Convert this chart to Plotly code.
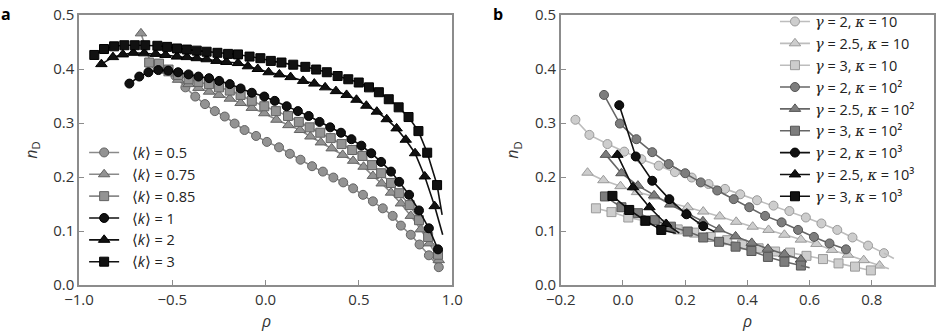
import plotly.graph_objects as go

# ---------------- Panel a data ----------------
k05_x = [-0.59, -0.536, -0.483, -0.430, -0.377, -0.325, -0.272, -0.219, -0.166, -0.113, -0.051, 0.007, 0.072, 0.130, 0.187, 0.249, 0.307, 0.363, 0.416, 0.469, 0.522, 0.575, 0.628, 0.681, 0.725, 0.778, 0.825, 0.875, 0.928]
k05_y = [0.408, 0.398, 0.387, 0.366, 0.349, 0.335, 0.322, 0.312, 0.299, 0.287, 0.276, 0.265, 0.255, 0.243, 0.232, 0.220, 0.210, 0.199, 0.190, 0.179, 0.167, 0.155, 0.142, 0.128, 0.110, 0.093, 0.075, 0.055, 0.033]

k075_x = [-0.668, -0.615, -0.565, -0.515, -0.469, -0.413, -0.360, -0.303, -0.250, -0.192, -0.134, -0.074, -0.007, 0.058, 0.122, 0.184, 0.240, 0.296, 0.354, 0.413, 0.469, 0.525, 0.575, 0.622, 0.672, 0.725, 0.778, 0.831, 0.878, 0.928]
k075_y = [0.466, 0.410, 0.402, 0.392, 0.380, 0.372, 0.365, 0.358, 0.352, 0.345, 0.337, 0.328, 0.318, 0.306, 0.296, 0.287, 0.275, 0.264, 0.253, 0.241, 0.230, 0.219, 0.202, 0.188, 0.171, 0.151, 0.128, 0.103, 0.077, 0.046]

k085_x = [-0.624, -0.571, -0.520, -0.469, -0.413, -0.360, -0.303, -0.250, -0.192, -0.134, -0.074, -0.007, 0.055, 0.120, 0.178, 0.236, 0.293, 0.349, 0.407, 0.464, 0.519, 0.571, 0.619, 0.672, 0.716, 0.772, 0.822, 0.871, 0.924]
k085_y = [0.412, 0.410, 0.399, 0.389, 0.381, 0.376, 0.372, 0.366, 0.360, 0.352, 0.341, 0.331, 0.322, 0.313, 0.302, 0.292, 0.282, 0.272, 0.261, 0.250, 0.239, 0.222, 0.207, 0.189, 0.170, 0.148, 0.120, 0.089, 0.056]

k1_x = [-0.730, -0.677, -0.628, -0.575, -0.522, -0.469, -0.413, -0.360, -0.303, -0.249, -0.192, -0.134, -0.074, -0.007, 0.049, 0.113, 0.173, 0.231, 0.289, 0.346, 0.404, 0.460, 0.513, 0.566, 0.619, 0.672, 0.716, 0.769, 0.822, 0.875, 0.924]
k1_y = [0.373, 0.386, 0.394, 0.398, 0.397, 0.394, 0.390, 0.386, 0.383, 0.378, 0.372, 0.364, 0.356, 0.349, 0.341, 0.331, 0.322, 0.313, 0.302, 0.292, 0.282, 0.270, 0.258, 0.244, 0.228, 0.210, 0.191, 0.167, 0.138, 0.105, 0.066]

k2_x = [-0.880, -0.818, -0.765, -0.709, -0.651, -0.589, -0.536, -0.475, -0.422, -0.369, -0.316, -0.263, -0.210, -0.148, -0.095, -0.042, 0.016, 0.074, 0.134, 0.201, 0.261, 0.319, 0.377, 0.434, 0.487, 0.540, 0.596, 0.649, 0.702, 0.751, 0.801, 0.853, 0.906]
k2_y = [0.409, 0.422, 0.427, 0.430, 0.429, 0.428, 0.426, 0.423, 0.422, 0.420, 0.418, 0.415, 0.413, 0.411, 0.405, 0.400, 0.394, 0.390, 0.385, 0.378, 0.373, 0.366, 0.359, 0.352, 0.343, 0.332, 0.321, 0.307, 0.290, 0.269, 0.244, 0.201, 0.146]
k2_fit_end = (0.949, 0.093)

k3_x = [-0.918, -0.866, -0.812, -0.757, -0.701, -0.645, -0.580, -0.528, -0.475, -0.422, -0.369, -0.316, -0.258, -0.201, -0.148, -0.086, -0.028, 0.028, 0.085, 0.148, 0.213, 0.271, 0.328, 0.386, 0.443, 0.499, 0.554, 0.607, 0.660, 0.713, 0.766, 0.819, 0.866, 0.919]
k3_y = [0.426, 0.437, 0.442, 0.444, 0.444, 0.444, 0.443, 0.441, 0.438, 0.436, 0.434, 0.432, 0.430, 0.428, 0.427, 0.423, 0.420, 0.415, 0.412, 0.408, 0.404, 0.399, 0.394, 0.387, 0.381, 0.375, 0.366, 0.357, 0.344, 0.329, 0.311, 0.285, 0.245, 0.185]
k3_fit_end = (0.946, 0.130)

# ---------------- Panel b data ----------------
g2_k10_x = [-0.153, -0.108, -0.050, 0.004, 0.059, 0.115, 0.167, 0.221, 0.275, 0.328, 0.377, 0.431, 0.484, 0.535, 0.588, 0.638, 0.689, 0.738, 0.788, 0.839]
g2_k10_y = [0.306, 0.278, 0.261, 0.247, 0.233, 0.221, 0.209, 0.199, 0.187, 0.178, 0.168, 0.157, 0.147, 0.137, 0.125, 0.114, 0.102, 0.088, 0.073, 0.059]
g2_k10_end = (0.871, 0.049)

g25_k10_x = [-0.114, -0.063, -0.008, 0.045, 0.102, 0.154, 0.208, 0.258, 0.311, 0.364, 0.417, 0.468, 0.519, 0.572, 0.622, 0.672, 0.723, 0.774, 0.825]
g25_k10_y = [0.208, 0.194, 0.183, 0.172, 0.164, 0.152, 0.144, 0.136, 0.127, 0.117, 0.108, 0.102, 0.093, 0.084, 0.076, 0.065, 0.056, 0.046, 0.036]
g25_k10_end = (0.855, 0.030)

g3_k10_x = [-0.087, -0.037, 0.017, 0.070, 0.123, 0.176, 0.229, 0.282, 0.335, 0.383, 0.436, 0.489, 0.537, 0.590, 0.643, 0.693, 0.746, 0.797]
g3_k10_y = [0.142, 0.135, 0.125, 0.119, 0.112, 0.103, 0.097, 0.089, 0.083, 0.075, 0.068, 0.062, 0.060, 0.054, 0.048, 0.040, 0.034, 0.027]

g2_k100_x = [-0.061, -0.010, 0.043, 0.094, 0.147, 0.200, 0.250, 0.303, 0.356, 0.406, 0.457, 0.510, 0.563, 0.614, 0.664, 0.717]
g2_k100_y = [0.352, 0.299, 0.270, 0.246, 0.224, 0.207, 0.190, 0.175, 0.159, 0.144, 0.128, 0.116, 0.102, 0.089, 0.077, 0.066]

g25_k100_x = [-0.055, -0.005, 0.048, 0.100, 0.152, 0.205, 0.257, 0.309, 0.362, 0.414, 0.466, 0.519, 0.572]
g25_k100_y = [0.241, 0.207, 0.184, 0.166, 0.149, 0.133, 0.118, 0.103, 0.090, 0.078, 0.067, 0.057, 0.047]

g3_k100_x = [-0.058, -0.005, 0.048, 0.102, 0.154, 0.208, 0.258, 0.309, 0.362, 0.413, 0.466, 0.519, 0.572]
g3_k100_y = [0.164, 0.144, 0.133, 0.120, 0.108, 0.099, 0.088, 0.080, 0.071, 0.063, 0.052, 0.043, 0.036]
g3_k100_end = (0.600, 0.032)

g2_k1000_x = [-0.012, 0.041, 0.094, 0.149, 0.204, 0.258]
g2_k1000_y = [0.333, 0.238, 0.193, 0.159, 0.131, 0.109]
g2_k1000_end = (0.293, 0.099)

g25_k1000_x = [-0.018, 0.032, 0.085, 0.139]
g25_k1000_y = [0.241, 0.181, 0.144, 0.113]
g25_k1000_end = (0.181, 0.096)

g3_k1000_x = [-0.034, 0.020, 0.072, 0.123]
g3_k1000_y = [0.165, 0.139, 0.119, 0.102]
g3_k1000_end = (0.170, 0.096)

G = "<span style=\"font-family:'DejaVu Serif'\"><i>γ</i></span>"
K = "<span style=\"font-family:'DejaVu Serif'\"><i>κ</i></span>"
labels_a = ["\u00a0\u00a0⟨<i>k</i>⟩ = 0.5", "\u00a0\u00a0⟨<i>k</i>⟩ = 0.75", "\u00a0\u00a0⟨<i>k</i>⟩ = 0.85",
            "\u00a0\u00a0⟨<i>k</i>⟩ = 1", "\u00a0\u00a0⟨<i>k</i>⟩ = 2", "\u00a0\u00a0⟨<i>k</i>⟩ = 3"]
labels_b = [f"{G} = 2, {K} = 10", f"{G} = 2.5, {K} = 10", f"{G} = 3, {K} = 10",
            f"{G} = 2, {K} = 10²", f"{G} = 2.5, {K} = 10²", f"{G} = 3, {K} = 10²",
            f"{G} = 2, {K} = 10³", f"{G} = 2.5, {K} = 10³", f"{G} = 3, {K} = 10³"]

FONT = "Open Sans"
GRAY_FILL, GRAY_EDGE, GRAY_LINE = "#939393", "#636363", "#8a8a8a"
BLK_FILL, BLK_EDGE, BLK_LINE = "#111111", "#000000", "#111111"
LIGHT_FILL, LIGHT_EDGE, LIGHT_LINE = "#cdcdcd", "#9a9a9a", "#bdbdbd"
MED_FILL, MED_EDGE, MED_LINE = "#7d7d7d", "#555555", "#666666"

fig = go.Figure()


def add_series(x, y, name, symbol, fill, edge, line, xa, ya, legend, size=9, end=None, lw=1.6):
    fig.add_trace(go.Scatter(
        x=x, y=y, name=name, mode="lines+markers", xaxis=xa, yaxis=ya, legend=legend,
        line=dict(color=line, width=lw),
        marker=dict(symbol=symbol, size=size, color=fill, line=dict(color=edge, width=1)),
    ))
    if end is not None:
        fig.add_trace(go.Scatter(
            x=[x[-1], end[0]], y=[y[-1], end[1]], mode="lines", xaxis=xa, yaxis=ya,
            showlegend=False, line=dict(color=line, width=lw), hoverinfo="skip",
        ))


# panel a
add_series(k05_x, k05_y, labels_a[0], "circle", GRAY_FILL, GRAY_EDGE, GRAY_LINE, "x", "y", "legend")
add_series(k075_x, k075_y, labels_a[1], "triangle-up", GRAY_FILL, GRAY_EDGE, GRAY_LINE, "x", "y", "legend", size=10)
add_series(k085_x, k085_y, labels_a[2], "square", GRAY_FILL, GRAY_EDGE, GRAY_LINE, "x", "y", "legend")
add_series(k1_x, k1_y, labels_a[3], "circle", BLK_FILL, BLK_EDGE, BLK_LINE, "x", "y", "legend")
add_series(k2_x, k2_y, labels_a[4], "triangle-up", BLK_FILL, BLK_EDGE, BLK_LINE, "x", "y", "legend", size=10, end=k2_fit_end)
add_series(k3_x, k3_y, labels_a[5], "square", BLK_FILL, BLK_EDGE, BLK_LINE, "x", "y", "legend", end=k3_fit_end)

# panel b
add_series(g2_k10_x, g2_k10_y, labels_b[0], "circle", LIGHT_FILL, LIGHT_EDGE, LIGHT_LINE, "x2", "y2", "legend2", end=g2_k10_end)
add_series(g25_k10_x, g25_k10_y, labels_b[1], "triangle-up", LIGHT_FILL, LIGHT_EDGE, LIGHT_LINE, "x2", "y2", "legend2", size=10, end=g25_k10_end)
add_series(g3_k10_x, g3_k10_y, labels_b[2], "square", LIGHT_FILL, LIGHT_EDGE, LIGHT_LINE, "x2", "y2", "legend2")
add_series(g2_k100_x, g2_k100_y, labels_b[3], "circle", MED_FILL, MED_EDGE, MED_LINE, "x2", "y2", "legend2")
add_series(g25_k100_x, g25_k100_y, labels_b[4], "triangle-up", MED_FILL, MED_EDGE, MED_LINE, "x2", "y2", "legend2", size=10)
add_series(g3_k100_x, g3_k100_y, labels_b[5], "square", MED_FILL, MED_EDGE, MED_LINE, "x2", "y2", "legend2", end=g3_k100_end)
add_series(g2_k1000_x, g2_k1000_y, labels_b[6], "circle", BLK_FILL, BLK_EDGE, BLK_LINE, "x2", "y2", "legend2", end=g2_k1000_end)
add_series(g25_k1000_x, g25_k1000_y, labels_b[7], "triangle-up", BLK_FILL, BLK_EDGE, BLK_LINE, "x2", "y2", "legend2", size=10, end=g25_k1000_end)
add_series(g3_k1000_x, g3_k1000_y, labels_b[8], "square", BLK_FILL, BLK_EDGE, BLK_LINE, "x2", "y2", "legend2", end=g3_k1000_end)

axis_common = dict(showline=True, linecolor="#8c8c8c", linewidth=1.5, mirror=True,
                   ticks="inside", ticklen=5, tickcolor="#8c8c8c", tickwidth=1.2,
                   showgrid=False, zeroline=False, tickfont=dict(family=FONT, size=15, color="#333333"))

ytitle = dict(text="<i>n</i><sub>D</sub>", standoff=12, font=dict(family=FONT, size=16, color="#333333"))

fig.update_layout(
    width=946, height=332,
    margin=dict(l=79, r=1, t=15, b=47),
    paper_bgcolor="white", plot_bgcolor="white",
    font=dict(family=FONT, size=15, color="#333333"),
    xaxis=dict(domain=[0, 0.4365], range=[-1.0, 1.0], tickvals=[-1.0, -0.5, 0.0, 0.5, 1.0], tickformat=".1f",
               **axis_common),
    yaxis=dict(domain=[0, 1], range=[0, 0.5], tickvals=[0, 0.1, 0.2, 0.3, 0.4, 0.5], tickformat=".1f",
               title=ytitle, **axis_common),
    xaxis2=dict(domain=[0.5635, 1.0], range=[-0.2, 1.0], tickvals=[-0.2, 0.0, 0.2, 0.4, 0.6, 0.8], tickformat=".1f",
                anchor="y2", **axis_common),
    yaxis2=dict(domain=[0, 1], range=[0, 0.5], tickvals=[0, 0.1, 0.2, 0.3, 0.4, 0.5], tickformat=".1f",
                anchor="x2", title=ytitle, **axis_common),
    legend=dict(x=0.006, y=0.55, xanchor="left", yanchor="top", bgcolor="rgba(0,0,0,0)",
                font=dict(family=FONT, size=14.5, color="#222222"), itemwidth=30, tracegroupgap=0),
    legend2=dict(x=0.814, y=1.035, xanchor="left", yanchor="top", bgcolor="rgba(0,0,0,0)",
                 font=dict(family=FONT, size=14.5, color="#222222"), itemwidth=30, tracegroupgap=0,
                 maxheight=300),
    showlegend=True,
)

for txt, xc, yc in [("<b>a</b>", -0.0855, 1.004), ("<b>b</b>", 0.4896, 1.004)]:
    fig.add_annotation(text=txt, xref="paper", yref="paper", x=xc, y=yc, xanchor="center", yanchor="middle",
                       showarrow=False, font=dict(family=FONT, size=16, color="#000000"))

# x-axis titles (rho) below each panel
for xc in [0.21825, 0.78175]:
    fig.add_annotation(text="<i>ρ</i>", xref="paper", yref="paper", x=xc, y=-0.133, xanchor="center", yanchor="middle",
                       showarrow=False, font=dict(family=FONT, size=16, color="#333333"))

fig.write_html("out.html", config={"displayModeBar": False},
               post_script="document.body.style.margin='0px';")
